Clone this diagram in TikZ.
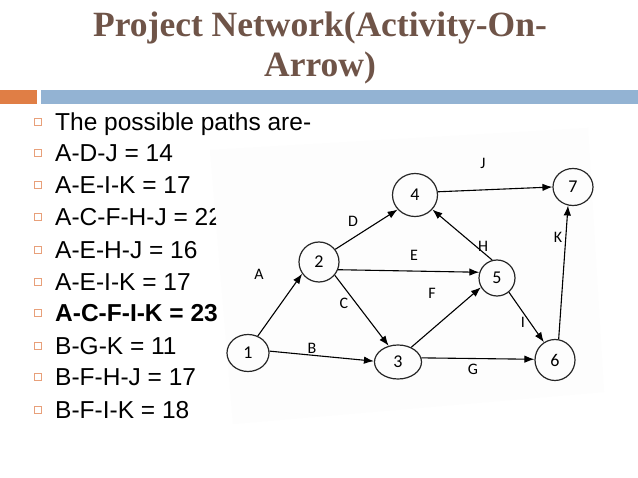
\documentclass[tikz,border=0pt]{standalone}
\usepackage{fontspec}
\setmainfont{Liberation Sans}
\newfontfamily\titlefont{Liberation Serif}
\newfontfamily\labfont{Carlito}
\usetikzlibrary{arrows.meta,shapes.geometric}
\definecolor{titlebrown}{RGB}{111,84,72}
\definecolor{barorange}{RGB}{224,126,69}
\definecolor{barblue}{RGB}{147,179,211}
\definecolor{bulletor}{RGB}{232,160,122}
\tikzset{
  evt/.style={ellipse,draw=black!85,line width=1.2pt,inner sep=0pt,
    font=\labfont\fontsize{18}{18}\selectfont},
  act/.style={line width=1.1pt,-{Latex[length=10pt,width=7.5pt]}},
  lab/.style={font=\labfont\fontsize{16}{16}\selectfont},
  itemtxt/.style={anchor=base west,font=\fontsize{24.5}{28}\selectfont,inner sep=0pt},
  bul/.style={draw=bulletor,line width=0.9pt,fill=white}
}
\begin{document}
\begin{tikzpicture}[x=1pt,y=-1pt]
\useasboundingbox (0,0) rectangle (638,478);
\fill[white] (0,0) rectangle (638,478);
% title
\node[font=\titlefont\bfseries\fontsize{35.5}{40}\selectfont,text=titlebrown,anchor=base] (t1) at (320,37) {Project Network(Activity-On-};
\node[font=\titlefont\bfseries\fontsize{35.5}{40}\selectfont,text=titlebrown,anchor=base] (t2) at (320,77) {Arrow)};
% bars
\fill[barorange] (0,90) rectangle (36.5,104.5);
\fill[barblue] (41,90) rectangle (638,104.5);
% list
\foreach \yy/\tt [count=\i] in {
  122/{The possible paths are-},
  153/{A-D-J = 14},
  185/{A-E-I-K = 17},
  217/{A-C-F-H-J = 22},
  250/{A-E-H-J = 16},
  282/{A-E-I-K = 17},
  313/{\textbf{A-C-F-I-K = 23}},
  346/{B-G-K = 11},
  377/{B-F-H-J = 17},
  410/{B-F-I-K = 18}}{
  \draw[bul] (34,\yy-3.5) rectangle (41,\yy+3.5);
  \node[itemtxt] (item\i) at (55,\yy+8.6) {\tt};
}
% picture background
\fill[white!99.3!black] (210,150) -- (588,128) -- (604,392) -- (233,424) -- cycle;
% events
\node[evt,minimum width=42pt,minimum height=37pt] (n1) at (248,353) {1};
\node[evt,minimum width=40pt,minimum height=40pt] (n2) at (319,262) {2};
\node[evt,minimum width=47pt,minimum height=34pt] (n3) at (398,362) {3};
\node[evt,minimum width=45pt,minimum height=43pt] (n4) at (415,195) {4};
\node[evt,minimum width=36pt,minimum height=36pt] (n5) at (497,278) {5};
\node[evt,minimum width=40pt,minimum height=41pt] (n6) at (555,360) {6};
\node[evt,minimum width=40pt,minimum height=37pt] (n7) at (573,187) {7};
% activities
\draw[act] (n1.60) -- (n2.-145);
\draw[act] (n1.5) -- (n3.178);
\draw[act] (n2.-40) -- (n3.120);
\draw[act] (n2.38) -- (n4.-140);
\draw[act] (n2.-22) -- (n5.162);
\draw[act] (n3.48) -- (n5.-150);
\draw[act] (n3.10) -- (n6.178);
\draw[act] (n5.105) -- (n4.-40);
\draw[act] (n5.-50) -- (n6.122);
\draw[act] (n4.8) -- (n7.180);
\draw[act] (n6.80) -- (n7.-105);
% labels
\node[lab] (lA) at (259,274) {A};
\node[lab] (lB) at (312,348) {B};
\node[lab] (lC) at (344,303) {C};
\node[lab] (lD) at (353,221) {D};
\node[lab] (lE) at (414,255) {E};
\node[lab] (lF) at (432,293) {F};
\node[lab] (lG) at (473,369) {G};
\node[lab] (lH) at (483,246) {H};
\node[lab] (lI) at (523,322) {I};
\node[lab] (lJ) at (483,163) {J};
\node[lab] (lK) at (558,237) {K};
\end{tikzpicture}
\end{document}
